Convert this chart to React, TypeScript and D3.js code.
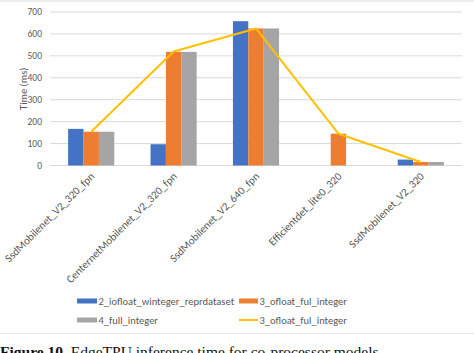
import React from "react";
import * as d3 from "d3";

// values (ms)
const categories = [
  "SsdMobilenet_V2_320_fpn",
  "CenternetMobilenet_V2_320_fpn",
  "SsdMobilenet_V2_640_fpn",
  "Efficientdet_lite0_320",
  "SsdMobilenet_V2_320",
];
const ioFloatRepr = [167, 97, 658, 0, 27];
const oFloatFul = [154, 518, 625, 145, 16];
const fullInteger = [154, 518, 625, 0, 16];
const oFloatLine = [154, 520, 625, 145, 16];
const yTicks = [0, 100, 200, 300, 400, 500, 600, 700];

const barSeries = [
  { name: "2_iofloat_winteger_reprdataset", values: ioFloatRepr, color: "#4472C4" },
  { name: "3_ofloat_ful_integer", values: oFloatFul, color: "#ED7D31" },
  { name: "4_full_integer", values: fullInteger, color: "#A5A5A5" },
];
const lineName = "3_ofloat_ful_integer";
const lineColor = "#FFC000";

const W = 474;
const H = 353;
const font = "Carlito, Calibri, Lato, sans-serif";

export default function App() {
  const x = d3
    .scaleBand<string>()
    .domain(categories)
    .range([50, 462])
    .paddingInner(0.44)
    .paddingOuter(0.22);
  const xs = d3
    .scaleBand<string>()
    .domain(barSeries.map((s) => s.name))
    .range([0, x.bandwidth()]);
  const y = d3.scaleLinear().domain([0, 700]).range([165.5, 12]);

  const line = d3
    .line<number>()
    .x((_, i) => (x(categories[i]) as number) + x.bandwidth() / 2)
    .y((d) => y(d));

  return (
    <svg
      width={W}
      height={H}
      style={{ position: "absolute", left: 0, top: 0, background: "#fff" }}
    >
      <rect x={0} y={0} width={W} height={2} fill="#ececec" />

      {/* grid + y ticks */}
      {yTicks.map((t) => (
        <g key={t}>
          <line x1={50} x2={462} y1={y(t)} y2={y(t)} stroke="#d9d9d9" strokeWidth={1} />
          <text
            x={42}
            y={y(t)}
            dy="0.35em"
            textAnchor="end"
            fontFamily={font}
            fontSize={9.5}
            fill="#595959"
          >
            {t}
          </text>
        </g>
      ))}

      <text
        transform={`translate(23,${y(350)}) rotate(-90)`}
        textAnchor="middle"
        dy="0.35em"
        fontFamily={font}
        fontSize={10.5}
        fill="#595959"
      >
        Time (ms)
      </text>

      {/* bars */}
      {barSeries.map((s) =>
        s.values.map((v, i) =>
          v > 0 ? (
            <rect
              key={s.name + i}
              x={(x(categories[i]) as number) + (xs(s.name) as number)}
              y={y(v)}
              width={xs.bandwidth()}
              height={y(0) - y(v)}
              fill={s.color}
            />
          ) : null
        )
      )}

      <path
        d={line(oFloatLine) || ""}
        fill="none"
        stroke={lineColor}
        strokeWidth={2}
        strokeLinejoin="round"
      />

      {/* category labels */}
      {categories.map((c) => {
        const cx = (x(c) as number) + x.bandwidth() / 2 + 4;
        return (
          <text
            key={c}
            transform={`translate(${cx},177) rotate(-45)`}
            textAnchor="end"
            fontFamily={font}
            fontSize={11}
            fill="#595959"
          >
            {c}
          </text>
        );
      })}

      {/* legend */}
      <g fontFamily={font} fontSize={10.5} fill="#595959">
        <rect x={77} y={298.5} width={20} height={5} fill={barSeries[0].color} />
        <text x={98.5} y={301} dy="0.35em">{barSeries[0].name}</text>
        <rect x={239} y={298.5} width={19} height={5} fill={barSeries[1].color} />
        <text x={259.5} y={301} dy="0.35em">{barSeries[1].name}</text>
        <rect x={77} y={317.5} width={20} height={5} fill={barSeries[2].color} />
        <text x={98.5} y={320} dy="0.35em">{barSeries[2].name}</text>
        <line x1={239} x2={258} y1={320} y2={320} stroke={lineColor} strokeWidth={2} />
        <text x={259.5} y={320} dy="0.35em">{lineName}</text>
      </g>

      <line x1={0} x2={W} y1={333.5} y2={333.5} stroke="#e6e6e6" strokeWidth={1} />

      {/* caption (cut off at the bottom edge, as in the source) */}
      <text x={0} y={357} fontFamily="'Liberation Serif', serif" fontSize={15.5} fill="#111">
        <tspan fontWeight="bold">Figure 10.</tspan> EdgeTPU inference time for co-processor models
      </text>
    </svg>
  );
}
